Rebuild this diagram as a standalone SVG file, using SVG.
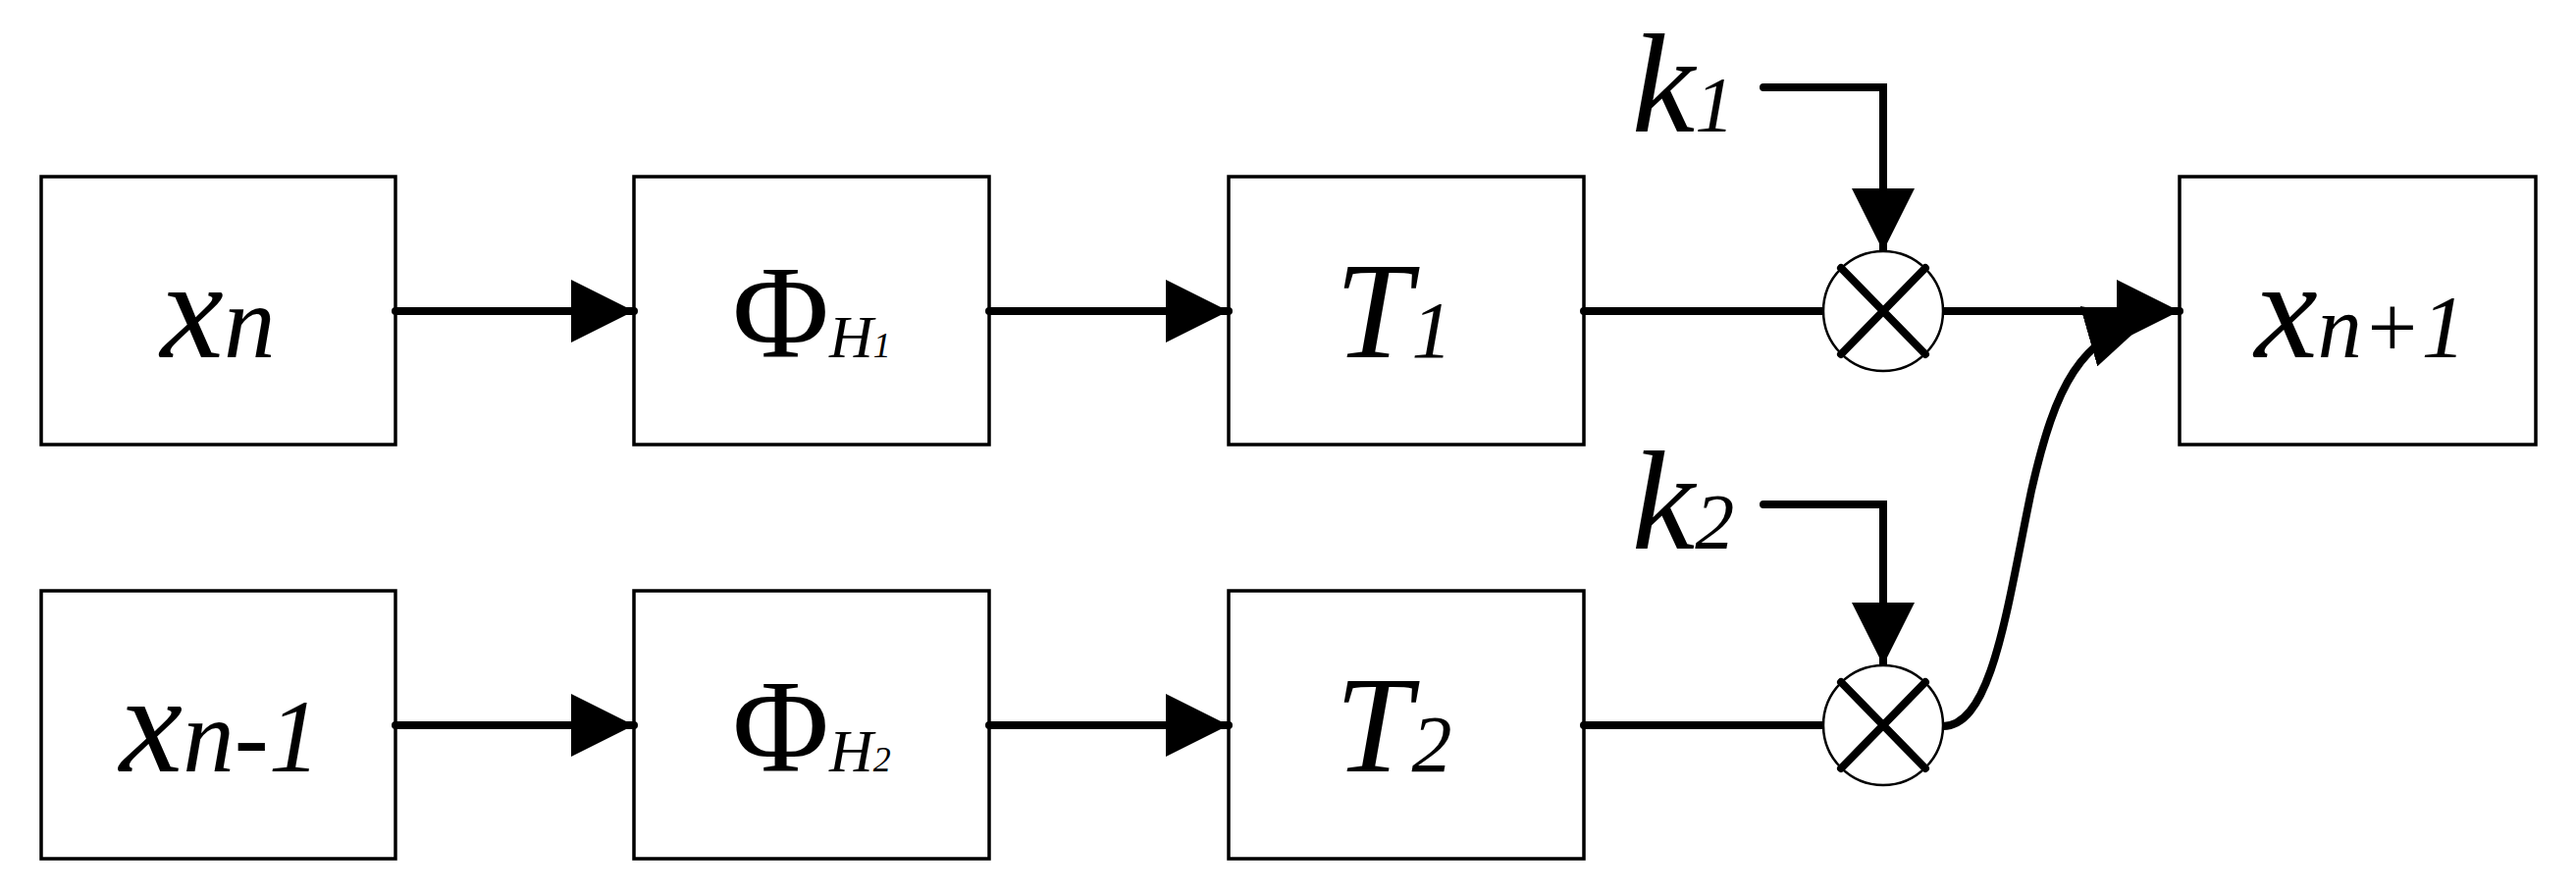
<svg xmlns="http://www.w3.org/2000/svg" width="2625" height="913" viewBox="0 0 2625 913">
<style>
.box{fill:#fff;stroke:#000;stroke-width:3.5}
.ln{fill:none;stroke:#000;stroke-width:8;stroke-linecap:round}
.cir{fill:#fff;stroke:#000;stroke-width:2.5}
.t{font-family:"Liberation Serif",serif;font-style:italic;fill:#000;text-anchor:middle}
.phi{font-style:normal}
</style>
<defs>
<marker id="ah" markerUnits="userSpaceOnUse" markerWidth="64" markerHeight="64" viewBox="0 0 60 60" refX="60" refY="30" orient="auto">
<path d="M0,0 L60,30 L0,60 Z" fill="#000"/>
</marker>
</defs>
<g id="n-xn"><rect class="box" x="42" y="180" width="361" height="273"/>
<text class="t" x="222" y="364"><tspan font-size="145">x</tspan><tspan font-size="105">n</tspan></text></g>
<g id="n-phi1"><rect class="box" x="646" y="180" width="362" height="273"/>
<text class="t" x="827" y="364"><tspan class="phi" font-size="135">Φ</tspan><tspan font-size="62">H</tspan><tspan font-size="36">1</tspan></text></g>
<g id="n-t1"><rect class="box" x="1252" y="180" width="362" height="273"/>
<text class="t" x="1420" y="364"><tspan font-size="140">T</tspan><tspan font-size="82">1</tspan></text></g>
<g id="n-xn1"><rect class="box" x="2221" y="180" width="363" height="273"/>
<text class="t" x="2405" y="364"><tspan font-size="145">x</tspan><tspan font-size="90">n+1</tspan></text></g>
<g id="n-xnm1"><rect class="box" x="42" y="602" width="361" height="273"/>
<text class="t" x="224" y="786"><tspan font-size="145">x</tspan><tspan font-size="105">n-1</tspan></text></g>
<g id="n-phi2"><rect class="box" x="646" y="602" width="362" height="273"/>
<text class="t" x="827" y="786"><tspan class="phi" font-size="135">Φ</tspan><tspan font-size="62">H</tspan><tspan font-size="36">2</tspan></text></g>
<g id="n-t2"><rect class="box" x="1252" y="602" width="362" height="273"/>
<text class="t" x="1420" y="786"><tspan font-size="140">T</tspan><tspan font-size="82">2</tspan></text></g>
<g id="n-k1"><text class="t" x="1715" y="134"><tspan font-size="145">k</tspan><tspan font-size="80">1</tspan></text></g>
<g id="n-k2"><text class="t" x="1715" y="559"><tspan font-size="145">k</tspan><tspan font-size="80">2</tspan></text></g>
<g id="connectors">
<path class="ln" d="M403,317 H646" marker-end="url(#ah)"/>
<path class="ln" d="M1008,317 H1252" marker-end="url(#ah)"/>
<path class="ln" d="M403,739 H646" marker-end="url(#ah)"/>
<path class="ln" d="M1008,739 H1252" marker-end="url(#ah)"/>
<path class="ln" d="M1614,317 H1858"/>
<path class="ln" d="M1614,739 H1858"/>
<path class="ln" d="M1797,89 H1919 V256" marker-end="url(#ah)"/>
<path class="ln" d="M1797,514 H1919 V678" marker-end="url(#ah)"/>
<path class="ln" d="M1980,317 H2221" marker-end="url(#ah)"/>
<path class="ln" d="M1980,740 C2030,740 2045,620 2070,500 C2095,390 2120,345 2190,325" marker-end="url(#ah)"/>
</g>
<g id="n-m1"><ellipse class="cir" cx="1919" cy="317" rx="61" ry="61"/>
<path class="ln" d="M1876,273 L1962,361 M1962,273 L1876,361"/></g>
<g id="n-m2"><ellipse class="cir" cx="1919" cy="739" rx="61" ry="61"/>
<path class="ln" d="M1876,695 L1962,783 M1962,695 L1876,783"/></g>
</svg>
